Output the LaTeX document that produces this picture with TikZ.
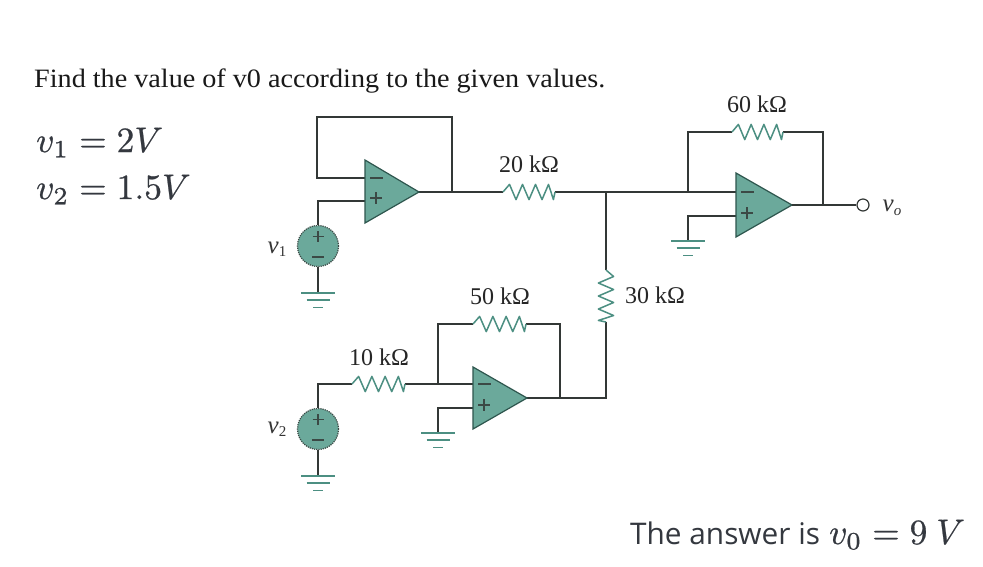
\documentclass[tikz,border=0pt]{standalone}
\usepackage{fontspec}
\setmainfont{Liberation Serif}
\newfontfamily\ansfont{Open Sans}
\newfontfamily\titlefont[FakeStretch=1.063]{Liberation Serif}
\usetikzlibrary{calc}
\definecolor{tealfill}{HTML}{6BA99B}
\definecolor{tealline}{HTML}{4C8F82}
\definecolor{wirec}{HTML}{333836}
\definecolor{mathc}{HTML}{34383F}
\tikzset{
  wire/.style={draw=wirec,line width=1.3pt,line join=miter},
  amp/.style={draw=tealline!60!black,fill=tealfill,line width=1.2pt,line join=miter},
  res/.style={draw=tealline,line width=1.5pt,line join=round},
  gbar/.style={draw=tealline,line width=1.7pt},
  sign/.style={draw=wirec!85!tealfill,line width=1.3pt},
  src/.style={circle,draw=wirec!85!tealfill,fill=tealfill,line width=1.2pt,densely dotted,minimum size=41pt,inner sep=0pt},
  vallabel/.style={font=\fontsize{24}{26}\selectfont,text=black!85,inner sep=0pt},
  srclabel/.style={font=\fontsize{25}{26}\selectfont\itshape,text=black!80,inner sep=0pt},
  mathtext/.style={anchor=base west,inner sep=0pt,text=mathc},
  term/.style={circle,draw=wirec,fill=white,line width=1.2pt,minimum size=12pt,inner sep=0pt}
}
\newcommand{\bigeq}[1]{\fontsize{10}{12}\selectfont\scalebox{3.55}{\special{pdf:code 2 Tr 0.06 w}$#1$\special{pdf:code 0 Tr}}}
\newcommand{\gnd}[1]{%
  \draw[gbar] ($(#1)+(-17,0)$) -- ($(#1)+(17,0)$);
  \draw[gbar] ($(#1)+(-11.5,7)$) -- ($(#1)+(11.5,7)$);
  \draw[gbar] ($(#1)+(-5,14.5)$) -- ($(#1)+(5,14.5)$);}
\newcommand{\ampsigns}[2]{%
  \draw[sign] ($(#1)+(5,0)$) -- ($(#1)+(18,0)$);
  \draw[sign] ($(#2)+(5,-3)$) -- ($(#2)+(17,-3)$);
  \draw[sign] ($(#2)+(11,-9)$) -- ($(#2)+(11,3)$);}
\newcommand{\zig}[2]{%
  \draw[res] (#1)
   -- ($(#1)!0.125!(#2)!7.6pt!90:(#2)$)
   -- ($(#1)!0.25!(#2)!7.6pt!-90:(#2)$)
   -- ($(#1)!0.375!(#2)!7.6pt!90:(#2)$)
   -- ($(#1)!0.5!(#2)!7.6pt!-90:(#2)$)
   -- ($(#1)!0.625!(#2)!7.6pt!90:(#2)$)
   -- ($(#1)!0.75!(#2)!7.6pt!-90:(#2)$)
   -- ($(#1)!0.875!(#2)!7.6pt!90:(#2)$)
   -- ($(#1)!0.97!(#2)!7.6pt!-90:(#2)$)
   -- (#2);}
\begin{document}
\begin{tikzpicture}[x=1pt,y=-1pt]
\useasboundingbox (0,0) rectangle (983,566);
\fill[white] (0,0) rectangle (983,566);
% coordinates
\coordinate (a1t) at (365,160); \coordinate (a1b) at (365,223); \coordinate (a1o) at (419,192);
\coordinate (a1m) at (365,178); \coordinate (a1p) at (365,201);
\coordinate (fb1l) at (317,178); \coordinate (fb1tl) at (317,117); \coordinate (fb1tr) at (452,117); \coordinate (fb1br) at (452,192);
\coordinate (p1l) at (318,201);
\coordinate (r20a) at (503,192); \coordinate (r20b) at (555,192);
\coordinate (jn) at (606,192); \coordinate (jf) at (688,192);
\coordinate (a3t) at (736,173); \coordinate (a3b) at (736,237); \coordinate (a3o) at (792,205);
\coordinate (a3m) at (736,192); \coordinate (a3p) at (736,216);
\coordinate (f3tl) at (688,132); \coordinate (r60a) at (732,132); \coordinate (r60b) at (783,132);
\coordinate (f3tr) at (823,132); \coordinate (f3br) at (823,205);
\coordinate (g3c) at (688,216); \coordinate (g3) at (688,241);
\coordinate (r30a) at (606,270); \coordinate (r30b) at (606,322); \coordinate (j2c) at (606,398);
\coordinate (a2t) at (473,367); \coordinate (a2b) at (473,429); \coordinate (a2o) at (527,398);
\coordinate (a2m) at (473,384); \coordinate (a2p) at (473,408);
\coordinate (f2bl) at (438,384); \coordinate (f2tl) at (438,324); \coordinate (r50a) at (473,324); \coordinate (r50b) at (526,324);
\coordinate (f2tr) at (560,324); \coordinate (f2br) at (560,398);
\coordinate (r10a) at (352,384); \coordinate (r10b) at (405,384);
\coordinate (s2t) at (318,384);
\coordinate (g2c) at (438,408); \coordinate (g2) at (438,433);
\coordinate (g1s) at (318,293); \coordinate (g2s) at (318,476);
% wires
\draw[wire] (a1m) -- (fb1l) -- (fb1tl) -- (fb1tr) -- (fb1br);
\draw[wire] (a1o) -- (r20a);
\draw[wire] (r20b) -- (a3m);
\draw[wire] (jf) -- (f3tl) -- (r60a);
\draw[wire] (r60b) -- (f3tr) -- (f3br);
\draw[wire] (a3p) -- (g3c) -- (g3);
\draw[wire] (jn) -- (r30a);
\draw[wire] (r30b) -- (j2c) -- (a2o);
\draw[wire] (a2m) -- (r10b);
\draw[wire] (f2bl) -- (f2tl) -- (r50a);
\draw[wire] (r50b) -- (f2tr) -- (f2br);
\draw[wire] (a2p) -- (g2c) -- (g2);
% sources
\node[src] (s1) at (318,246) {};
\node[src] (s2) at (318,429) {};
\draw[wire] (a1p) -- (p1l) -- (s1.north);
\draw[wire] (s1.south) -- (g1s);
\draw[wire] (r10a) -- (s2t) -- (s2.north);
\draw[wire] (s2.south) -- (g2s);
\foreach \s in {s1,s2}{
  \draw[sign] ($(\s)+(0,-15)$) -- ($(\s)+(0,-4)$);
  \draw[sign] ($(\s)+(-5.5,-9.5)$) -- ($(\s)+(5.5,-9.5)$);
  \draw[sign] ($(\s)+(-6,11)$) -- ($(\s)+(6,11)$);
}
% resistors
\zig{r20a}{r20b}
\zig{r60a}{r60b}
\zig{r50a}{r50b}
\zig{r10a}{r10b}
\zig{r30a}{r30b}
% op amps
\draw[amp] (a1t) -- (a1o) -- (a1b) -- cycle;
\draw[amp] (a2t) -- (a2o) -- (a2b) -- cycle;
\draw[amp] (a3t) -- (a3o) -- (a3b) -- cycle;
\ampsigns{a1m}{a1p}
\ampsigns{a2m}{a2p}
\ampsigns{a3m}{a3p}
% grounds
\gnd{g1s}
\gnd{g2s}
\gnd{g2}
\gnd{g3}
% output
\node[term] (vo) at (863,205) {};
\draw[wire] (a3o) -- (vo);
% labels
\node[vallabel] (l20) at (529,164) {20 kΩ};
\node[vallabel] (l50) at (500,296) {50 kΩ};
\node[vallabel] (l10) at (379,357) {10 kΩ};
\node[vallabel] (l60) at (757,104) {60 kΩ};
\node[vallabel] (l30) at (655,295) {30 kΩ};
\node[srclabel] (lv1) at (277,249) {v\raisebox{-3pt}{\fontsize{15}{15}\selectfont\upshape 1}};
\node[srclabel] (lv2) at (277,429) {v\raisebox{-3pt}{\fontsize{15}{15}\selectfont\upshape 2}};
\node[srclabel] (lvo) at (892,208) {v\raisebox{-4pt}{\fontsize{15}{15}\selectfont o}};
% texts
\node[anchor=base west,inner sep=0pt,text=black!90,font=\titlefont\fontsize{26.5}{28}\selectfont] (title) at (34,87) {Find the value of v0 according to the given values.};
\node[mathtext] (eq1) at (36,152) {\bigeq{v_1 = 2V}};
\node[mathtext] (eq2) at (36,199) {\bigeq{v_2 = 1.5V}};
\node[mathtext,font=\ansfont\fontsize{29.8}{32}\selectfont] (ans) at (630,544) {The answer is};
\node[mathtext] (eq3) at (829,544) {\bigeq{v_0 = 9\ V}};
\end{tikzpicture}
\end{document}
